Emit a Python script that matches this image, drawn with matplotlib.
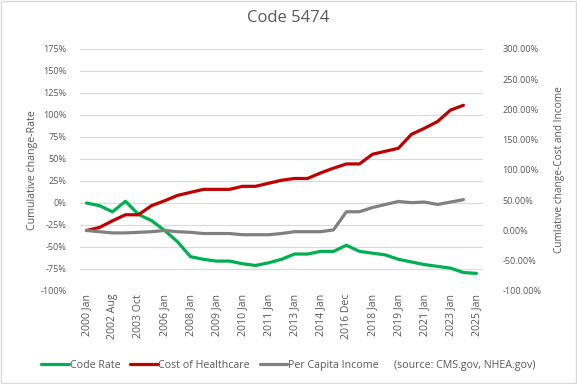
import matplotlib.pyplot as plt
from matplotlib.patches import Rectangle
from matplotlib.ticker import FuncFormatter

plt.rcParams['font.family'] = ['Open Sans', 'DejaVu Sans']

# labels shown on every second category
tick_labels = ['2000 Jan', '2002 Aug', '2003 Oct', '2006 Jan', '2008 Jan', '2009 Jan',
               '2010 Jan', '2011 Jan', '2013 Jan', '2014 Jan', '2016 Dec', '2018 Jan',
               '2019 Jan', '2021 Jan', '2023 Jan', '2025 Jan']

# cumulative change, % (left axis)
code_rate = [0, -3, -10, 2, -13, -20, -31, -44, -61, -64, -66, -66, -69, -71, -68, -64,
             -58, -58, -55, -55, -48, -55, -57, -59, -64, -67, -70, -72, -74, -79, -80]

# cumulative change, % (right axis)
cost_health = [0, 5, 16, 26, 26, 41, 49, 58, 63, 68, 68, 68, 73, 73, 78, 83,
               86, 86, 95, 103, 110, 110, 126, 131, 136, 159, 169, 180, 199, 207]
income = [0, -2, -4, -4, -3, -2, 0, -2, -3, -5, -5, -5, -7, -7, -7, -5,
          -2, -2, -2, 1, 31, 31, 38, 43, 48, 46, 47, 43, 47, 51]

green = '#00b050'
red = '#c00000'
grey = '#808080'
txt = '#595959'

fig = plt.figure(figsize=(5.77, 3.84), dpi=100)
fig.patches.append(Rectangle((0.001, 0.002), 0.997, 0.995, transform=fig.transFigure,
                             fill=False, edgecolor='#d9d9d9', lw=1))
ax = fig.add_axes([0.1386, 0.2422, 0.6984, 0.6302])
ax2 = ax.twinx()

x1 = list(range(len(code_rate)))
x2 = list(range(len(cost_health)))

l1, = ax.plot(x1, code_rate, color=green, lw=2.3, solid_capstyle='round')
l2, = ax2.plot(x2, cost_health, color=red, lw=2.3, solid_capstyle='round')
l3, = ax2.plot(x2, income, color=grey, lw=2.3, solid_capstyle='round')

ax.set_xlim(-0.5, len(code_rate) - 0.5)
ax.set_ylim(-100, 175)
ax.set_yticks(range(-100, 176, 25))
ax.yaxis.set_major_formatter(FuncFormatter(lambda v, p: f'{v:.0f}%'))
ax2.set_ylim(-100, 300)
ax2.set_yticks(range(-100, 301, 50))
ax2.yaxis.set_major_formatter(FuncFormatter(lambda v, p: f'{v:.2f}%'))

ax.set_xticks(range(0, len(code_rate), 2))
ax.set_xticklabels(tick_labels, rotation=90)

ax.grid(axis='y', color='#d9d9d9', lw=0.8)
ax.set_axisbelow(True)
for a in (ax, ax2):
    for s in a.spines.values():
        s.set_visible(False)
    a.tick_params(length=0, labelsize=6.6, colors=txt)
ax.tick_params(axis='y', pad=9.5)
ax.tick_params(axis='x', pad=2, labelsize=7.6)
ax2.tick_params(axis='y', pad=14)

ax.set_ylabel('Cumulative change-Rate', fontsize=7.7, color=txt, labelpad=2)
ax2.set_ylabel('Cumlative change-Cost and Income', fontsize=7.3, color=txt, labelpad=9)

fig.suptitle('Code 5474', x=0.5, y=0.975, fontsize=12, color=txt)

fig.legend([l1, l2, l3], ['Code Rate', 'Cost of Healthcare', 'Per Capita Income'],
           loc='center left', bbox_to_anchor=(0.055, 0.049), ncol=3, frameon=False,
           fontsize=7.7, handlelength=2.6, handletextpad=0.05, columnspacing=0.9,
           labelcolor=txt)
fig.text(0.683, 0.049, '(source: CMS.gov, NHEA.gov)', fontsize=7.7, color=txt,
         va='center', ha='left')

fig.savefig('out.png', dpi=100)
